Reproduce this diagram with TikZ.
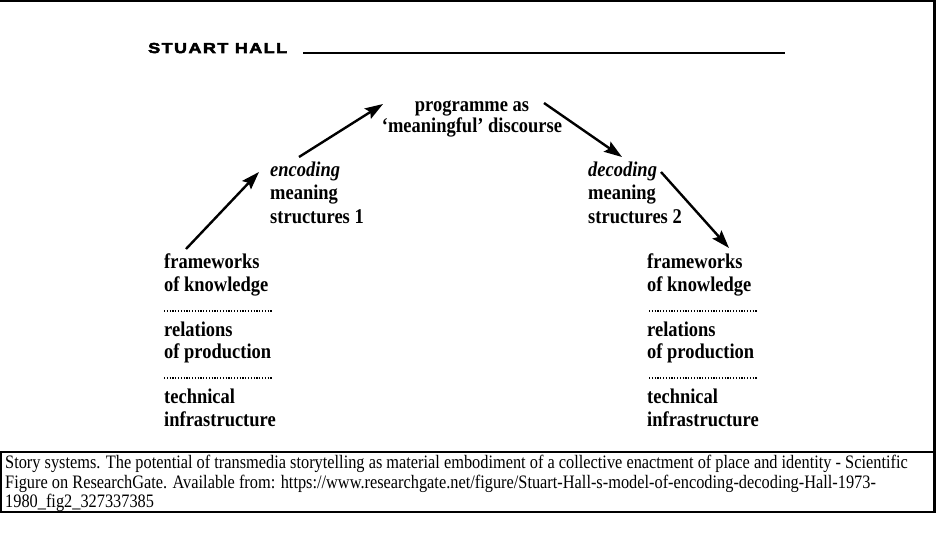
\documentclass[tikz,border=0pt]{standalone}
\usepackage{fontspec}
\setmainfont{Liberation Serif}
\newfontfamily\diagfont{Liberation Serif}[FakeStretch=0.88]
\newfontfamily\capfont{Liberation Serif}[FakeStretch=0.86]
\newfontfamily\hallfont{Liberation Sans}[FakeStretch=1.25,LetterSpace=10,BoldFeatures={FakeBold=3.5}]
\usetikzlibrary{arrows.meta}
\tikzset{
  lbl/.style={font=\diagfont\bfseries\fontsize{21}{23}\selectfont, inner sep=0pt, anchor=base west},
  lblc/.style={lbl, anchor=base},
  lbli/.style={lbl, font=\diagfont\bfseries\itshape\fontsize{21}{23}\selectfont},
  arr/.style={line width=2.4pt, -{Stealth[length=18pt,width=12pt,inset=3pt]}},
  dotline/.style={line width=1.4pt, dash pattern=on 1.2pt off 1.6pt},
  captext/.style={font=\capfont\fontsize{19}{20}\selectfont, inner sep=0pt, anchor=base west},
  frameline/.style={line width=2.5pt},
  hallstyle/.style={font=\hallfont\bfseries\fontsize{14.4}{16}\selectfont, inner sep=0pt, anchor=base west},
}
\begin{document}
\begin{tikzpicture}[x=1pt,y=-1pt]
\useasboundingbox[fill=white] (0,0) rectangle (936,556);
% frame
\draw[frameline] (0,1) -- (935.5,1);
\draw[frameline] (934.5,0) -- (934.5,452);
\draw[frameline] (1,452) rectangle (934.5,512);

% header
\node[hallstyle] (hall) at (148,53) {STUART HALL};
\draw[line width=2.2pt] (303,53) -- (785,53);

% programme
\node[lblc] (prog1) at (472,112) {programme as};
\node[lblc] (prog2) at (472,133) {‘meaningful’ discourse};

% encoding
\node[lbli] (enc1) at (270,177) {encoding};
\node[lbl] (enc2) at (270,200) {meaning};
\node[lbl] (enc3) at (270,223) {structures 1};

% decoding
\node[lbli] (dec1) at (588,177) {decoding};
\node[lbl] (dec2) at (588,200) {meaning};
\node[lbl] (dec3) at (588,223) {structures 2};

% left stack
\node[lbl] (lf1) at (164,268) {frameworks};
\node[lbl] (lf2) at (164,291) {of knowledge};
\node[lbl] (lr1) at (164,336) {relations};
\node[lbl] (lr2) at (164,358) {of production};
\node[lbl] (lt1) at (164,403) {technical};
\node[lbl] (lt2) at (164,426) {infrastructure};
\draw[dotline] (164,311) -- (273,311);
\draw[dotline] (164,378) -- (273,378);

% right stack
\node[lbl] (rf1) at (647,268) {frameworks};
\node[lbl] (rf2) at (647,291) {of knowledge};
\node[lbl] (rr1) at (647,336) {relations};
\node[lbl] (rr2) at (647,358) {of production};
\node[lbl] (rt1) at (647,403) {technical};
\node[lbl] (rt2) at (647,426) {infrastructure};
\draw[dotline] (649,311) -- (758,311);
\draw[dotline] (649,378) -- (758,378);

% arrows
\draw[arr] ([shift={(22,-19)}]lf1.base west) -- ([shift={(-11,-5)}]enc1.base west);
\draw[arr] ([shift={(29,-20)}]enc1.base west) -- ([shift={(-89,-8)}]prog1.base);
\draw[arr] ([shift={(72,-9)}]prog1.base) -- ([shift={(34,-20)}]dec1.base west);
\draw[arr] ([shift={(73,-5)}]dec1.base west) -- ([shift={(82,-20)}]rf1.base west);

% caption
\node[captext] (cap1) at (5,468) {Story systems. The potential of transmedia storytelling as material embodiment of a collective enactment of place and identity - Scientific};
\node[captext] (cap2) at (5,488) {Figure on ResearchGate. Available from: https://www.researchgate.net/figure/Stuart-Hall-s-model-of-encoding-decoding-Hall-1973-};
\node[captext] (cap3) at (5,507) {1980\_fig2\_327337385};
\end{tikzpicture}
\end{document}
